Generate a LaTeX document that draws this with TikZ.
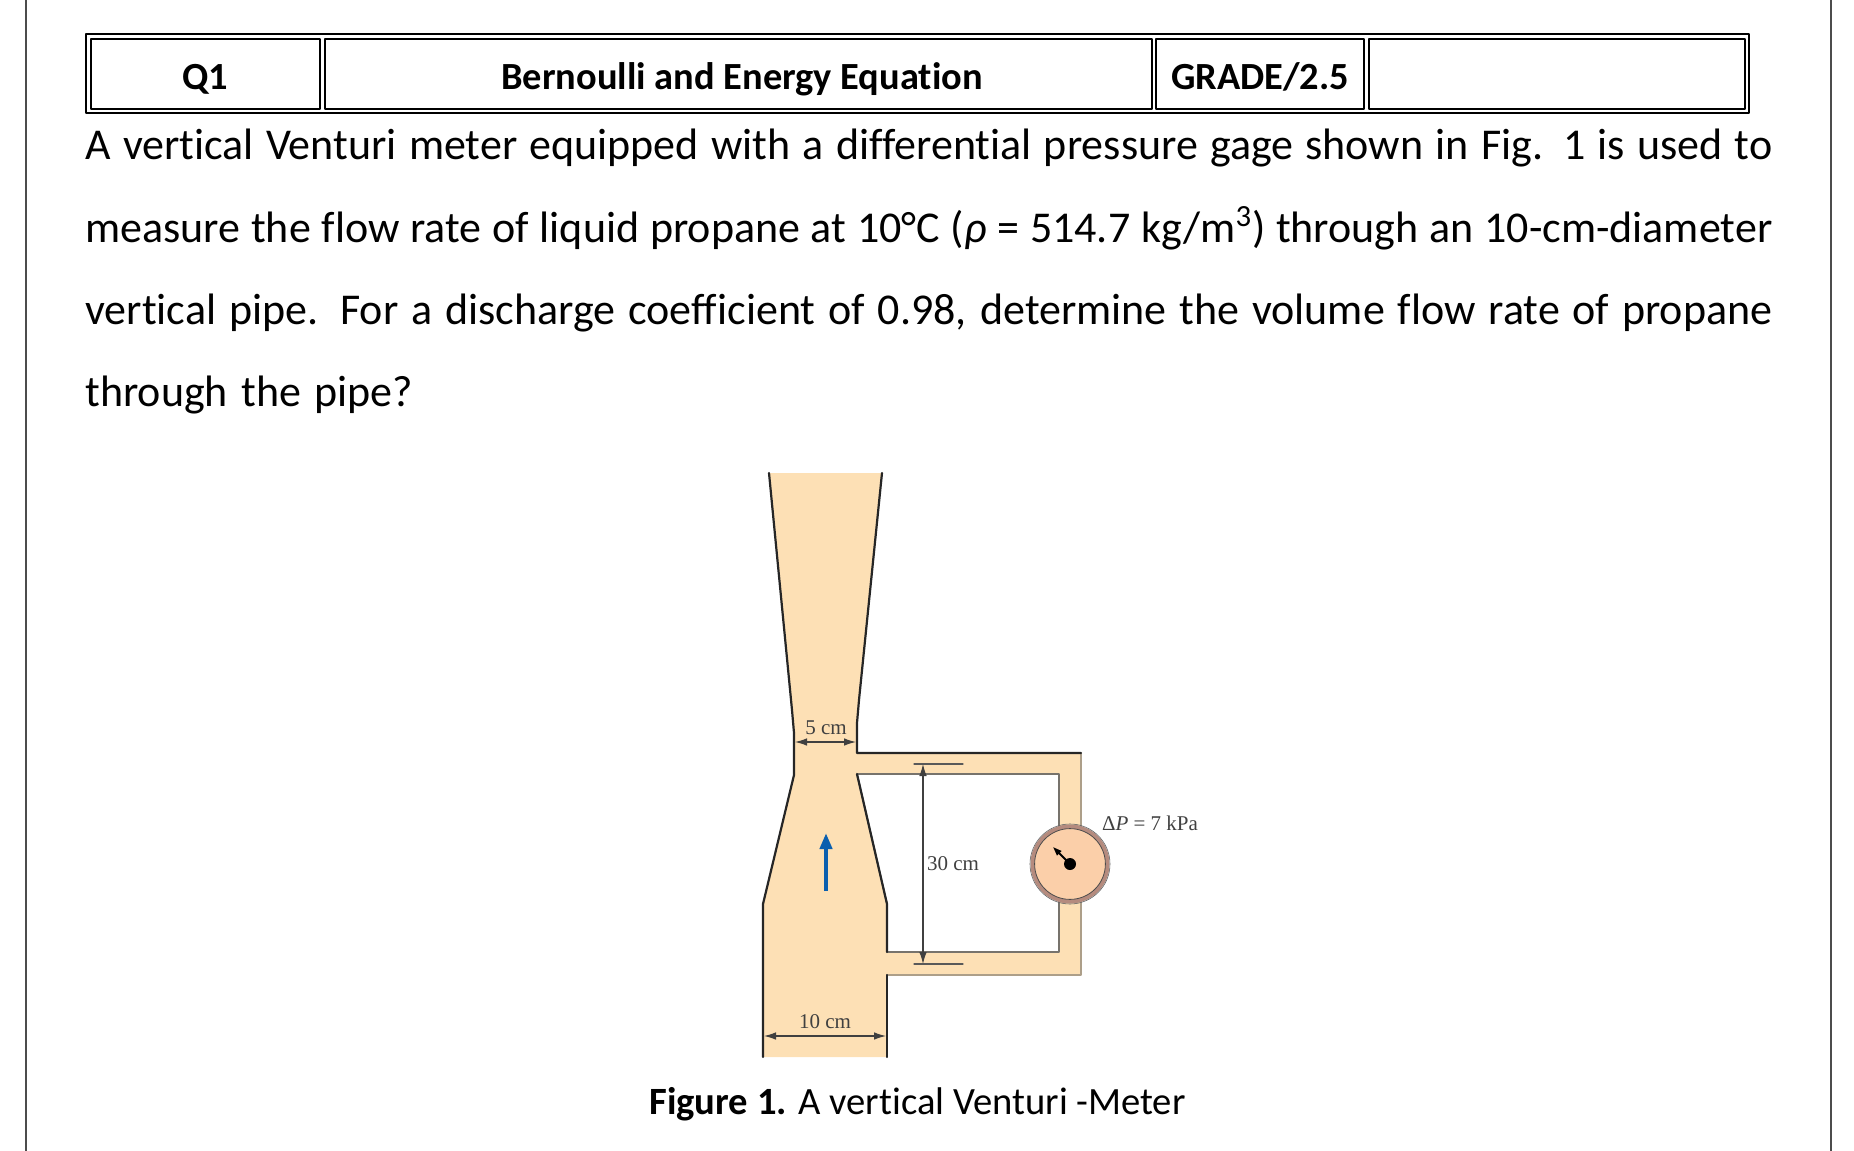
\documentclass[tikz,border=0pt]{standalone}
\usepackage{fontspec}
\setmainfont{Carlito}[Ligatures=NoCommon]
\newfontfamily\labelfont{Liberation Serif}
\usetikzlibrary{arrows.meta}
\definecolor{pipefill}{HTML}{FDE0B5}
\definecolor{gagefill}{HTML}{FBCFA9}
\definecolor{gagering}{HTML}{B58B7E}
\definecolor{flowblue}{HTML}{0B5FAE}
\definecolor{tubeedge}{HTML}{77736C}
\tikzset{
	cellbox/.style={draw,line width=1.1pt,minimum height=35pt,inner sep=0pt,text height=16pt,text depth=1pt,font=\fontsize{19.2}{20}\selectfont\bfseries},
	bodytext/.style={anchor=base west,inner sep=0pt,font=\fontsize{22}{24}\selectfont},
	dimlabel/.style={inner sep=0pt,text=black!75,font=\labelfont\fontsize{10.5}{12}\selectfont},
	dimline/.style={line width=0.6pt,black!75,{Latex[length=6pt,width=3.8pt]}-{Latex[length=6pt,width=3.8pt]}}
}
\begin{document}
\begin{tikzpicture}[line cap=round,line join=round,x=0.5pt,y=-0.5pt]
	\useasboundingbox (0,0) rectangle (1854,1151);
	\draw [line width=0.6pt,black!70] (26,0)--(26,1151);
	\draw [line width=0.6pt,black!70] (1831,0)--(1831,1151);
	% table
	\node [draw,line width=1.1pt,minimum width=831.5pt,minimum height=39.5pt,inner sep=0pt] (frame) at (917.5,73.5) {};
	\node [cellbox,minimum width=114.5pt] (q1) at (205.5,74) {Q1};
	\node [cellbox,minimum width=413.5pt] (title) at (738.5,74) {\hspace*{3.5pt}Bernoulli and Energy Equation};
	\node [cellbox,minimum width=104pt] (grade) at (1260,74) {GRADE/2.5};
	\node [cellbox,minimum width=188pt] (blank) at (1557,74) {};
	% text
	\node [bodytext] (line1) at (85,159) {\makebox[843.5pt][s]{A vertical Venturi meter equipped with a differential pressure gage shown in Fig. 1 is used to}};
	\node [bodytext] (line2) at (85,242) {\makebox[843.5pt][s]{measure the flow rate of liquid propane at 10°C (\textit{ρ} = 514.7 kg/m\textsuperscript{3}) through an 10-cm-diameter}};
	\node [bodytext] (line3) at (85,324) {\makebox[843.5pt][s]{vertical pipe. For a discharge coefficient of 0.98, determine the volume flow rate of propane}};
	\node [bodytext] (line4) at (85,406) {\makebox[163.8pt][s]{through the pipe?}};
	% venturi
	\fill [pipefill] (769,473)--(882,473)--(857,723)--(857,753)--(1081,753)--(1081,975)--(887,975)--(887,1057)--(763,1057)--(763,904)--(794,775)--(794,733)--cycle;
	\draw [fill=white,draw=tubeedge,line width=0.8pt] (857,774)--(1059,774)--(1059,952)--(887,952)--(887,904)--cycle;
	\draw [line width=0.8pt,tubeedge!60!pipefill] (857,753)--(1081,753)--(1081,975)--(887,975);
	\draw [line width=1.1pt,black!85] (769,473)--(792,710)--(794,733)--(794,775)--(763,904)--(763,1057);
	\draw [line width=1.1pt,black!85] (882,473)--(859,700)--(857,723)--(857,753)--(1081,753);
	\draw [line width=1.1pt,black!85] (857,774)--(887,904)--(887,952);
	\draw [line width=1.1pt,black!85] (887,975)--(887,1057);
	% flow arrow
	\coordinate (flowtail) at (826,891);
	\coordinate (flowhead) at (826,833);
	\draw [-{Triangle[length=8pt,width=6pt]},line cap=butt,line width=2pt,flowblue] (flowtail)--(flowhead);
	% gage
	\node [circle,draw=gagering,fill=gagefill,line width=2pt,minimum size=37.5pt,inner sep=0pt] (gage) at (1070,864) {};
	\draw [black!60,line width=0.3pt] (gage.center) circle (20pt);
	\draw [black!70,line width=0.4pt] (gage.center) circle (17.7pt);
	\coordinate (needletip) at (1053,847);
	\draw [-{Triangle[length=4.5pt,width=3pt]},line width=1pt] (gage.center)--(needletip);
	\fill (gage.center) circle (3pt);
	% dimensions
	\coordinate (thl) at (795,742);
	\coordinate (thr) at (856,742);
	\draw [dimline] (thl)--(thr);
	\node [dimlabel] (throatlabel) at (826,728) {5 cm};
	\coordinate (bl) at (764,1036);
	\coordinate (br) at (886,1036);
	\draw [dimline] (bl)--(br);
	\node [dimlabel] (pipelabel) at (825,1022) {10 cm};
	\coordinate (hup) at (923,764);
	\coordinate (hlow) at (923,964);
	\draw [dimline] (hup)--(hlow);
	\draw [line width=0.6pt,black!65] (914,764)--(963,764);
	\draw [line width=0.6pt,black!65] (914,964)--(963,964);
	\node [dimlabel] (heightlabel) at (953,864) {30 cm};
	\node [dimlabel] (gagelabel) at (1150,823) {Δ\textit{P} = 7 kPa};
	\node [anchor=base,inner sep=0pt,font=\fontsize{19.3}{22}\selectfont] (caption) at (917.5,1114) {\textbf{Figure 1.} A vertical Venturi -Meter};
\end{tikzpicture}
\end{document}
